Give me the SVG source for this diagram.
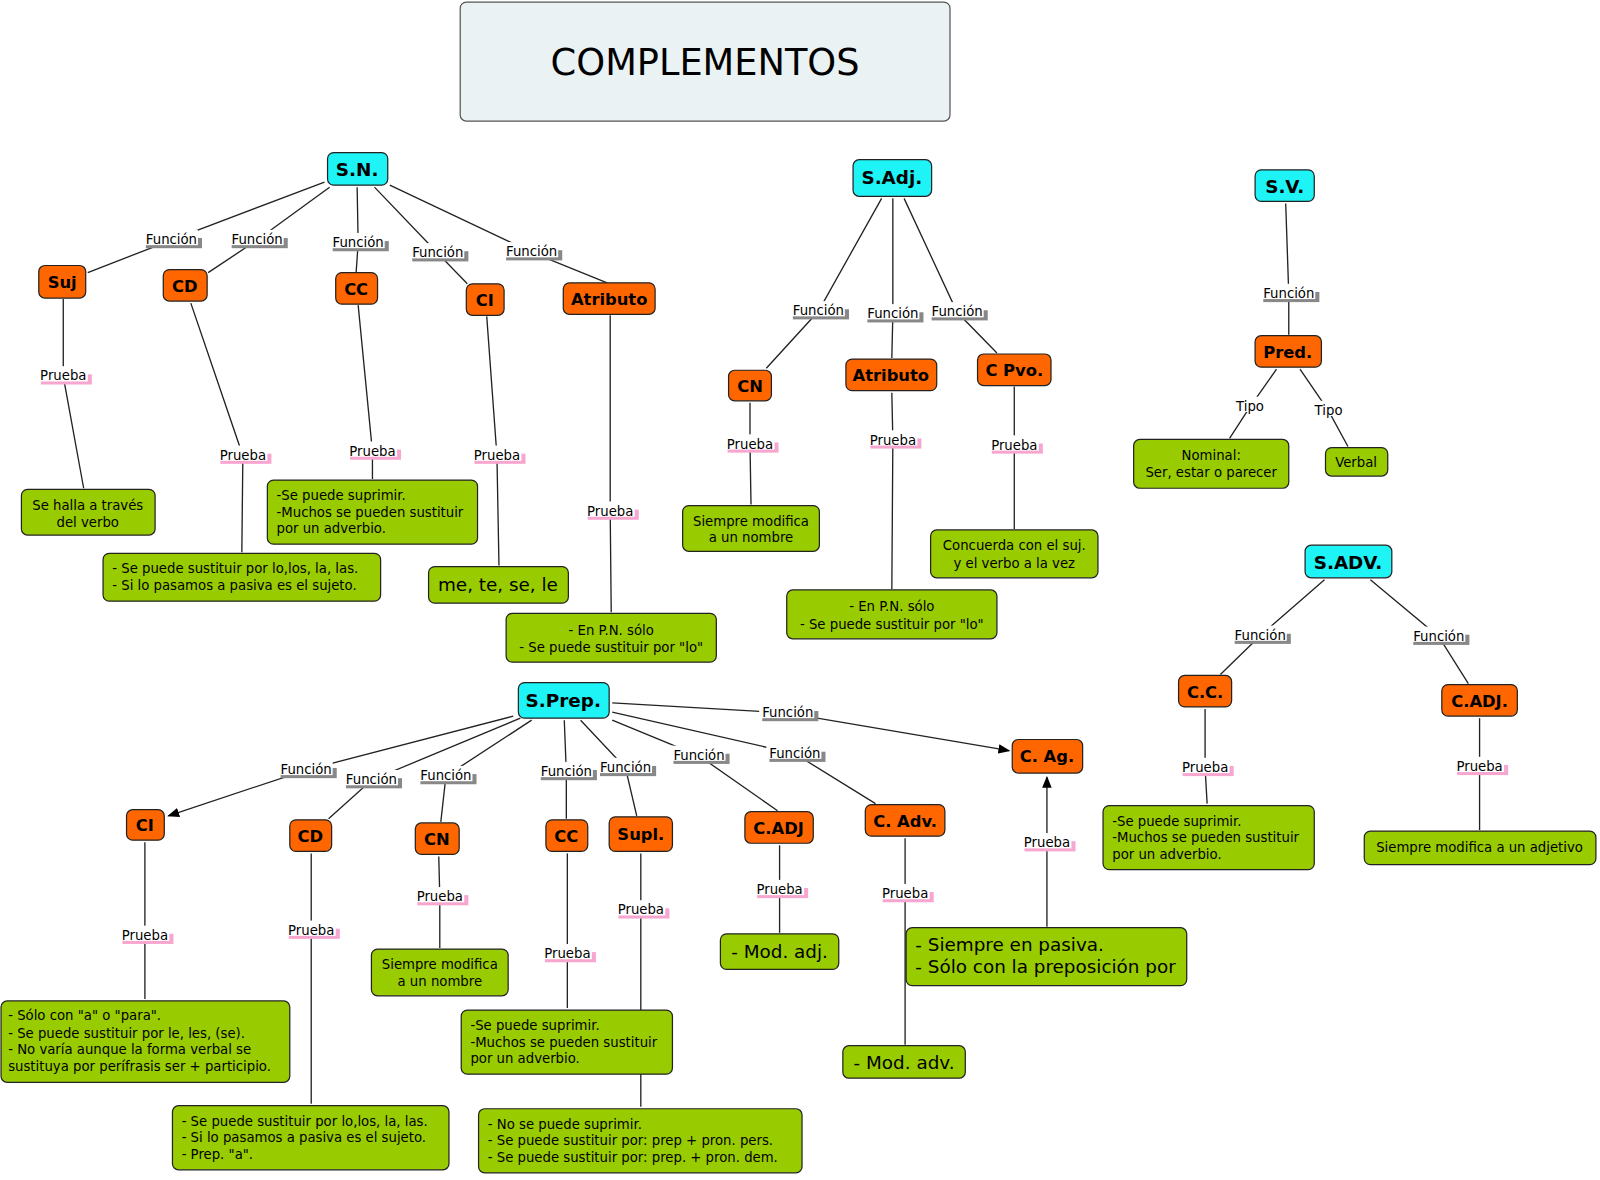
<svg xmlns="http://www.w3.org/2000/svg" width="1600" height="1180" viewBox="0 0 1600 1180">
<style>
text{font-family:"DejaVu Sans",Verdana,sans-serif;fill:#000}
.c{fill:#1ef3f5;stroke:#222;stroke-width:1.2}
.o{fill:#ff6600;stroke:#222;stroke-width:1.2}
.g{fill:#99cc00;stroke:#222;stroke-width:1.2}
.nt{font-size:16px;font-weight:bold;text-anchor:middle}
.ct{font-size:18px;font-weight:bold;text-anchor:middle}
.gt{font-size:13px}
.gc{font-size:13px;text-anchor:middle}
.big{font-size:18px}
.lt{font-size:13px;text-anchor:middle}
.ln{stroke:#222;stroke-width:1.3;fill:none}
.sf{fill:#888}.sp{fill:#f7a6cf}
</style>
<defs>
<marker id="ar" viewBox="0 0 10 10" refX="9" refY="5" markerWidth="9" markerHeight="9" orient="auto"><path d="M0,1L10,5L0,9z" fill="#000"/></marker>
</defs>
<rect width="1600" height="1180" fill="#fff"/>
<g transform="scale(1.0204,1.0172)">
<g id="connectors">
<polyline class="ln" points="318,179 168,236 86,268"/>
<polyline class="ln" points="323,184 252,236 204,268"/>
<polyline class="ln" points="350,184 351,239 349,268"/>
<polyline class="ln" points="367,184 429,249 458,279"/>
<polyline class="ln" points="382,182 521,248 595,278"/>
<polyline class="ln" points="62,294 62,370 82,480"/>
<polyline class="ln" points="187,298 238,448 237,543"/>
<polyline class="ln" points="351,300 365,444 365,471"/>
<polyline class="ln" points="477,311 487,448 489,556"/>
<polyline class="ln" points="598,310 598,503 599,602"/>
<polyline class="ln" points="864,195 802,306 751,362"/>
<polyline class="ln" points="875,195 875,309 874,352"/>
<polyline class="ln" points="886,195 938,307 977,347"/>
<polyline class="ln" points="735,396 735,437 736,496"/>
<polyline class="ln" points="874,386 875,433 874,579"/>
<polyline class="ln" points="994,380 994,438 994,520"/>
<polyline class="ln" points="1260,200 1263,289 1263,329"/>
<polyline class="ln" points="1251,363 1225,400 1205,431"/>
<polyline class="ln" points="1274,363 1302,404 1321,439"/>
<polyline class="ln" points="1298,570 1235,625 1196,663"/>
<polyline class="ln" points="1343,570 1410,626 1439,672"/>
<polyline class="ln" points="1181,697 1181,755 1183,790"/>
<polyline class="ln" points="1450,706 1450,754 1450,816"/>
<polyline class="ln" points="503,704 300,757 165,802" marker-end="url(#ar)"/>
<polyline class="ln" points="510,706 364,767 322,805"/>
<polyline class="ln" points="521,708 437,763 432,808"/>
<polyline class="ln" points="553,708 555,759 555,805"/>
<polyline class="ln" points="569,708 613,755 624,802"/>
<polyline class="ln" points="600,708 685,743 762,797"/>
<polyline class="ln" points="600,700 779,741 858,790"/>
<polyline class="ln" points="600,691 772,701 989,738" marker-end="url(#ar)"/>
<polyline class="ln" points="142,828 142,920 142,982"/>
<polyline class="ln" points="305,839 305,915 305,1085"/>
<polyline class="ln" points="430,842 431,882 431,932"/>
<polyline class="ln" points="556,839 556,938 556,991"/>
<polyline class="ln" points="628,839 628,895 628,1088"/>
<polyline class="ln" points="764,831 764,875 764,917"/>
<polyline class="ln" points="887,824 887,879 887,1027"/>
<polyline class="ln" points="1026,911 1026,829 1026,764" marker-end="url(#ar)"/>
</g>
<g id="labels">
<g transform="translate(168,236)"><rect class="sf" x="-25" y="-2" width="55" height="10"/><rect x="-28" y="-10" width="54" height="15" fill="#fff"/><text class="lt" y="4">Función</text></g>
<g transform="translate(252,236)"><rect class="sf" x="-25" y="-2" width="55" height="10"/><rect x="-28" y="-10" width="54" height="15" fill="#fff"/><text class="lt" y="4">Función</text></g>
<g transform="translate(351,239)"><rect class="sf" x="-25" y="-2" width="55" height="10"/><rect x="-28" y="-10" width="54" height="15" fill="#fff"/><text class="lt" y="4">Función</text></g>
<g transform="translate(429,249)"><rect class="sf" x="-25" y="-2" width="55" height="10"/><rect x="-28" y="-10" width="54" height="15" fill="#fff"/><text class="lt" y="4">Función</text></g>
<g transform="translate(521,248)"><rect class="sf" x="-25" y="-2" width="55" height="10"/><rect x="-28" y="-10" width="54" height="15" fill="#fff"/><text class="lt" y="4">Función</text></g>
<g transform="translate(802,306)"><rect class="sf" x="-25" y="-2" width="55" height="10"/><rect x="-28" y="-10" width="54" height="15" fill="#fff"/><text class="lt" y="4">Función</text></g>
<g transform="translate(875,309)"><rect class="sf" x="-25" y="-2" width="55" height="10"/><rect x="-28" y="-10" width="54" height="15" fill="#fff"/><text class="lt" y="4">Función</text></g>
<g transform="translate(938,307)"><rect class="sf" x="-25" y="-2" width="55" height="10"/><rect x="-28" y="-10" width="54" height="15" fill="#fff"/><text class="lt" y="4">Función</text></g>
<g transform="translate(1263,289)"><rect class="sf" x="-25" y="-2" width="55" height="10"/><rect x="-28" y="-10" width="54" height="15" fill="#fff"/><text class="lt" y="4">Función</text></g>
<g transform="translate(1235,625)"><rect class="sf" x="-25" y="-2" width="55" height="10"/><rect x="-28" y="-10" width="54" height="15" fill="#fff"/><text class="lt" y="4">Función</text></g>
<g transform="translate(1410,626)"><rect class="sf" x="-25" y="-2" width="55" height="10"/><rect x="-28" y="-10" width="54" height="15" fill="#fff"/><text class="lt" y="4">Función</text></g>
<g transform="translate(300,757)"><rect class="sf" x="-25" y="-2" width="55" height="10"/><rect x="-28" y="-10" width="54" height="15" fill="#fff"/><text class="lt" y="4">Función</text></g>
<g transform="translate(364,767)"><rect class="sf" x="-25" y="-2" width="55" height="10"/><rect x="-28" y="-10" width="54" height="15" fill="#fff"/><text class="lt" y="4">Función</text></g>
<g transform="translate(437,763)"><rect class="sf" x="-25" y="-2" width="55" height="10"/><rect x="-28" y="-10" width="54" height="15" fill="#fff"/><text class="lt" y="4">Función</text></g>
<g transform="translate(555,759)"><rect class="sf" x="-25" y="-2" width="55" height="10"/><rect x="-28" y="-10" width="54" height="15" fill="#fff"/><text class="lt" y="4">Función</text></g>
<g transform="translate(613,755)"><rect class="sf" x="-25" y="-2" width="55" height="10"/><rect x="-28" y="-10" width="54" height="15" fill="#fff"/><text class="lt" y="4">Función</text></g>
<g transform="translate(685,743)"><rect class="sf" x="-25" y="-2" width="55" height="10"/><rect x="-28" y="-10" width="54" height="15" fill="#fff"/><text class="lt" y="4">Función</text></g>
<g transform="translate(779,741)"><rect class="sf" x="-25" y="-2" width="55" height="10"/><rect x="-28" y="-10" width="54" height="15" fill="#fff"/><text class="lt" y="4">Función</text></g>
<g transform="translate(772,701)"><rect class="sf" x="-25" y="-2" width="55" height="10"/><rect x="-28" y="-10" width="54" height="15" fill="#fff"/><text class="lt" y="4">Función</text></g>
<g transform="translate(62,370)"><rect class="sp" x="-22" y="-2" width="50" height="10"/><rect x="-25" y="-10" width="49" height="15" fill="#fff"/><text class="lt" y="4">Prueba</text></g>
<g transform="translate(238,448)"><rect class="sp" x="-22" y="-2" width="50" height="10"/><rect x="-25" y="-10" width="49" height="15" fill="#fff"/><text class="lt" y="4">Prueba</text></g>
<g transform="translate(365,444)"><rect class="sp" x="-22" y="-2" width="50" height="10"/><rect x="-25" y="-10" width="49" height="15" fill="#fff"/><text class="lt" y="4">Prueba</text></g>
<g transform="translate(487,448)"><rect class="sp" x="-22" y="-2" width="50" height="10"/><rect x="-25" y="-10" width="49" height="15" fill="#fff"/><text class="lt" y="4">Prueba</text></g>
<g transform="translate(598,503)"><rect class="sp" x="-22" y="-2" width="50" height="10"/><rect x="-25" y="-10" width="49" height="15" fill="#fff"/><text class="lt" y="4">Prueba</text></g>
<g transform="translate(735,437)"><rect class="sp" x="-22" y="-2" width="50" height="10"/><rect x="-25" y="-10" width="49" height="15" fill="#fff"/><text class="lt" y="4">Prueba</text></g>
<g transform="translate(875,433)"><rect class="sp" x="-22" y="-2" width="50" height="10"/><rect x="-25" y="-10" width="49" height="15" fill="#fff"/><text class="lt" y="4">Prueba</text></g>
<g transform="translate(994,438)"><rect class="sp" x="-22" y="-2" width="50" height="10"/><rect x="-25" y="-10" width="49" height="15" fill="#fff"/><text class="lt" y="4">Prueba</text></g>
<g transform="translate(1181,755)"><rect class="sp" x="-22" y="-2" width="50" height="10"/><rect x="-25" y="-10" width="49" height="15" fill="#fff"/><text class="lt" y="4">Prueba</text></g>
<g transform="translate(1450,754)"><rect class="sp" x="-22" y="-2" width="50" height="10"/><rect x="-25" y="-10" width="49" height="15" fill="#fff"/><text class="lt" y="4">Prueba</text></g>
<g transform="translate(142,920)"><rect class="sp" x="-22" y="-2" width="50" height="10"/><rect x="-25" y="-10" width="49" height="15" fill="#fff"/><text class="lt" y="4">Prueba</text></g>
<g transform="translate(305,915)"><rect class="sp" x="-22" y="-2" width="50" height="10"/><rect x="-25" y="-10" width="49" height="15" fill="#fff"/><text class="lt" y="4">Prueba</text></g>
<g transform="translate(431,882)"><rect class="sp" x="-22" y="-2" width="50" height="10"/><rect x="-25" y="-10" width="49" height="15" fill="#fff"/><text class="lt" y="4">Prueba</text></g>
<g transform="translate(556,938)"><rect class="sp" x="-22" y="-2" width="50" height="10"/><rect x="-25" y="-10" width="49" height="15" fill="#fff"/><text class="lt" y="4">Prueba</text></g>
<g transform="translate(628,895)"><rect class="sp" x="-22" y="-2" width="50" height="10"/><rect x="-25" y="-10" width="49" height="15" fill="#fff"/><text class="lt" y="4">Prueba</text></g>
<g transform="translate(764,875)"><rect class="sp" x="-22" y="-2" width="50" height="10"/><rect x="-25" y="-10" width="49" height="15" fill="#fff"/><text class="lt" y="4">Prueba</text></g>
<g transform="translate(887,879)"><rect class="sp" x="-22" y="-2" width="50" height="10"/><rect x="-25" y="-10" width="49" height="15" fill="#fff"/><text class="lt" y="4">Prueba</text></g>
<g transform="translate(1026,829)"><rect class="sp" x="-22" y="-2" width="50" height="10"/><rect x="-25" y="-10" width="49" height="15" fill="#fff"/><text class="lt" y="4">Prueba</text></g>
<g transform="translate(1225,400)"><rect x="-16" y="-10" width="32" height="15" fill="#fff"/><text class="lt" y="4">Tipo</text></g>
<g transform="translate(1302,404)"><rect x="-16" y="-10" width="32" height="15" fill="#fff"/><text class="lt" y="4">Tipo</text></g>
</g>
<g id="title"><rect x="451" y="2" width="480" height="117" rx="6" fill="#eaf2f4" stroke="#555" stroke-width="1.2"/><text x="691" y="74" font-size="36" text-anchor="middle">COMPLEMENTOS</text></g>
<g id="sn"><rect class="c" x="321" y="150" width="59" height="32" rx="6"/><text class="ct" x="350" y="173">S.N.</text></g>
<g id="suj"><rect class="o" x="38" y="261" width="46" height="32" rx="6"/><text class="nt" x="61" y="283">Suj</text></g>
<g id="cd1"><rect class="o" x="160" y="265" width="43" height="31" rx="6"/><text class="nt" x="181" y="287">CD</text></g>
<g id="cc1"><rect class="o" x="329" y="268" width="41" height="31" rx="6"/><text class="nt" x="349" y="290">CC</text></g>
<g id="ci1"><rect class="o" x="457" y="279" width="37" height="31" rx="6"/><text class="nt" x="475" y="301">CI</text></g>
<g id="atr1"><rect class="o" x="552" y="278" width="90" height="31" rx="6"/><text class="nt" x="597" y="300">Atributo</text></g>
<g id="g-suj"><rect class="g" x="21" y="481" width="131" height="45" rx="6"/><text class="gc" x="86" y="501">Se halla a través</text><text class="gc" x="86" y="518">del verbo</text></g>
<g id="g-cd1"><rect class="g" x="101" y="544" width="272" height="47" rx="6"/><text class="gt" x="110" y="563">- Se puede sustituir por lo,los, la, las.</text><text class="gt" x="110" y="580">- Si lo pasamos a pasiva es el sujeto.</text></g>
<g id="g-cc1"><rect class="g" x="262" y="472" width="206" height="63" rx="6"/><text class="gt" x="271" y="492">-Se puede suprimir.</text><text class="gt" x="271" y="508">-Muchos se pueden sustituir</text><text class="gt" x="271" y="524">por un adverbio.</text></g>
<g id="g-ci1"><rect class="g" x="420" y="557" width="137" height="36" rx="6"/><text class="big" x="488" y="581" text-anchor="middle">me, te, se, le</text></g>
<g id="g-atr1"><rect class="g" x="496" y="603" width="206" height="48" rx="6"/><text class="gc" x="599" y="624">- En P.N. sólo</text><text class="gc" x="599" y="641">- Se puede sustituir por "lo"</text></g>
<g id="sadj"><rect class="c" x="836" y="157" width="77" height="36" rx="6"/><text class="ct" x="874" y="181">S.Adj.</text></g>
<g id="cn1"><rect class="o" x="714" y="364" width="42" height="30" rx="6"/><text class="nt" x="735" y="385">CN</text></g>
<g id="atr2"><rect class="o" x="829" y="353" width="89" height="31" rx="6"/><text class="nt" x="873" y="375">Atributo</text></g>
<g id="cpvo"><rect class="o" x="958" y="348" width="72" height="31" rx="6"/><text class="nt" x="994" y="370">C Pvo.</text></g>
<g id="g-cn1"><rect class="g" x="669" y="497" width="134" height="45" rx="6"/><text class="gc" x="736" y="517">Siempre modifica</text><text class="gc" x="736" y="533">a un nombre</text></g>
<g id="g-atr2"><rect class="g" x="771" y="580" width="206" height="48" rx="6"/><text class="gc" x="874" y="601">- En P.N. sólo</text><text class="gc" x="874" y="618">- Se puede sustituir por "lo"</text></g>
<g id="g-cpvo"><rect class="g" x="912" y="521" width="164" height="47" rx="6"/><text class="gc" x="994" y="541">Concuerda con el suj.</text><text class="gc" x="994" y="558">y el verbo a la vez</text></g>
<g id="sv"><rect class="c" x="1230" y="167" width="58" height="31" rx="6"/><text class="ct" x="1259" y="190">S.V.</text></g>
<g id="pred"><rect class="o" x="1230" y="330" width="65" height="31" rx="6"/><text class="nt" x="1262" y="352">Pred.</text></g>
<g id="g-nom"><rect class="g" x="1111" y="432" width="152" height="48" rx="6"/><text class="gc" x="1187" y="452">Nominal:</text><text class="gc" x="1187" y="469">Ser, estar o parecer</text></g>
<g id="g-verb"><rect class="g" x="1299" y="440" width="61" height="28" rx="6"/><text class="gc" x="1329" y="459">Verbal</text></g>
<g id="sadv"><rect class="c" x="1279" y="536" width="85" height="32" rx="6"/><text class="ct" x="1321" y="559">S.ADV.</text></g>
<g id="cc-adv"><rect class="o" x="1155" y="664" width="52" height="31" rx="6"/><text class="nt" x="1181" y="686">C.C.</text></g>
<g id="cadj-adv"><rect class="o" x="1413" y="673" width="74" height="31" rx="6"/><text class="nt" x="1450" y="695">C.ADJ.</text></g>
<g id="g-ccadv"><rect class="g" x="1081" y="792" width="207" height="63" rx="6"/><text class="gt" x="1090" y="812">-Se puede suprimir.</text><text class="gt" x="1090" y="828">-Muchos se pueden sustituir</text><text class="gt" x="1090" y="844">por un adverbio.</text></g>
<g id="g-cadjadv"><rect class="g" x="1337" y="817" width="227" height="33" rx="6"/><text class="gc" x="1450" y="838">Siempre modifica a un adjetivo</text></g>
<g id="sprep"><rect class="c" x="508" y="671" width="89" height="35" rx="6"/><text class="ct" x="552" y="695">S.Prep.</text></g>
<g id="ci2"><rect class="o" x="124" y="796" width="37" height="30" rx="6"/><text class="nt" x="142" y="817">CI</text></g>
<g id="cd2"><rect class="o" x="284" y="806" width="41" height="31" rx="6"/><text class="nt" x="304" y="828">CD</text></g>
<g id="cn2"><rect class="o" x="407" y="809" width="43" height="31" rx="6"/><text class="nt" x="428" y="831">CN</text></g>
<g id="cc2"><rect class="o" x="535" y="806" width="41" height="31" rx="6"/><text class="nt" x="555" y="828">CC</text></g>
<g id="supl"><rect class="o" x="597" y="803" width="62" height="34" rx="6"/><text class="nt" x="628" y="826">Supl.</text></g>
<g id="cadj2"><rect class="o" x="730" y="798" width="67" height="31" rx="6"/><text class="nt" x="763" y="820">C.ADJ</text></g>
<g id="cadv2"><rect class="o" x="848" y="791" width="78" height="31" rx="6"/><text class="nt" x="887" y="813">C. Adv.</text></g>
<g id="cag"><rect class="o" x="992" y="727" width="69" height="33" rx="6"/><text class="nt" x="1026" y="749">C. Ag.</text></g>
<g id="g-ci2"><rect class="g" x="1" y="984" width="283" height="80" rx="6"/><text class="gt" x="8" y="1003">- Sólo con "a" o "para".</text><text class="gt" x="8" y="1020">- Se puede sustituir por le, les, (se).</text><text class="gt" x="8" y="1036">- No varía aunque la forma verbal se</text><text class="gt" x="8" y="1053">sustituya por perífrasis ser + participio.</text></g>
<g id="g-cd2"><rect class="g" x="169" y="1087" width="271" height="63" rx="6"/><text class="gt" x="178" y="1107">- Se puede sustituir por lo,los, la, las.</text><text class="gt" x="178" y="1123">- Si lo pasamos a pasiva es el sujeto.</text><text class="gt" x="178" y="1139">- Prep. "a".</text></g>
<g id="g-cn2"><rect class="g" x="364" y="933" width="134" height="46" rx="6"/><text class="gc" x="431" y="953">Siempre modifica</text><text class="gc" x="431" y="969">a un nombre</text></g>
<g id="g-cc2"><rect class="g" x="452" y="993" width="207" height="63" rx="6"/><text class="gt" x="461" y="1013">-Se puede suprimir.</text><text class="gt" x="461" y="1029">-Muchos se pueden sustituir</text><text class="gt" x="461" y="1045">por un adverbio.</text></g>
<g id="g-supl"><rect class="g" x="469" y="1090" width="317" height="63" rx="6"/><text class="gt" x="478" y="1110">- No se puede suprimir.</text><text class="gt" x="478" y="1126">- Se puede sustituir por: prep + pron. pers.</text><text class="gt" x="478" y="1142">- Se puede sustituir por: prep. + pron. dem.</text></g>
<g id="g-cadj2"><rect class="g" x="706" y="918" width="116" height="35" rx="6"/><text class="big" x="764" y="942" text-anchor="middle">- Mod. adj.</text></g>
<g id="g-cadv2"><rect class="g" x="826" y="1028" width="120" height="32" rx="6"/><text class="big" x="886" y="1051" text-anchor="middle">- Mod. adv.</text></g>
<g id="g-cag"><rect class="g" x="888" y="912" width="275" height="57" rx="6"/><text class="big" x="897" y="935">- Siempre en pasiva.</text><text class="big" x="897" y="957">- Sólo con la preposición por</text></g>
</g>
</svg>
